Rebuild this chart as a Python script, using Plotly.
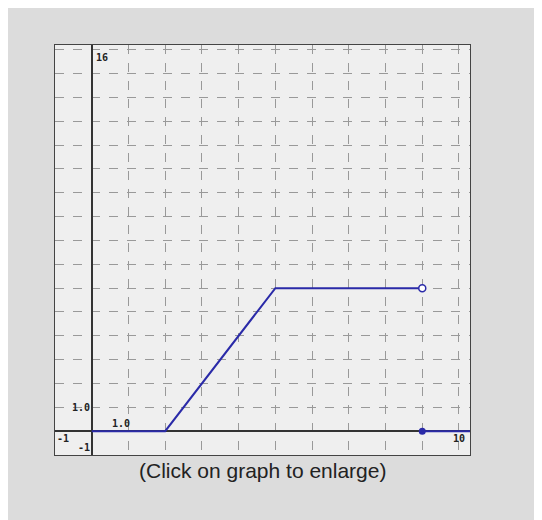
import plotly.graph_objects as go

seg_x = [0, 2, 5, 9]
seg_y = [0, 0, 6, 6]
tail_x = [9, 10.3]
tail_y = [0, 0]
open_pt = (9, 6)
closed_pt = (9, 0)

fig = go.Figure()
fig.add_trace(go.Scatter(x=seg_x, y=seg_y, mode="lines", line=dict(color="#2a2aa8", width=2)))
fig.add_trace(go.Scatter(x=tail_x, y=tail_y, mode="lines", line=dict(color="#2a2aa8", width=2)))
fig.add_trace(go.Scatter(x=[open_pt[0]], y=[open_pt[1]], mode="markers",
                         marker=dict(size=7, color="white", line=dict(color="#2a2aa8", width=1.5))))
fig.add_trace(go.Scatter(x=[closed_pt[0]], y=[closed_pt[1]], mode="markers",
                         marker=dict(size=7, color="#2a2aa8")))

gridstyle = dict(showgrid=True, gridcolor="#999", griddash="dash", gridwidth=1,
                 zeroline=True, zerolinecolor="#333", zerolinewidth=1.5,
                 showticklabels=False, showline=True, mirror=True, linecolor="#444", linewidth=1)
fig.update_xaxes(range=[-1, 10.3], dtick=1, **gridstyle)
fig.update_yaxes(range=[-1, 16.2], dtick=1, **gridstyle)

lab = dict(font=dict(family="DejaVu Sans Mono", size=10, color="#222"), showarrow=False)
fig.add_annotation(x=0.05, y=16, text="<b>16</b>", xanchor="left", yanchor="top", **lab)
fig.add_annotation(x=0.8, y=0, text="<b>1.0</b>", xanchor="center", yanchor="bottom", **lab)
fig.add_annotation(x=0, y=1, text="<b>1.0</b>", xanchor="right", yanchor="middle", **lab)
fig.add_annotation(x=-1, y=0, text="<b>-1</b>", xanchor="left", yanchor="top", **lab)
fig.add_annotation(x=0, y=-1, text="<b>-1</b>", xanchor="right", yanchor="bottom", **lab)
fig.add_annotation(x=10, y=0, text="<b>10</b>", xanchor="center", yanchor="top", **lab)
fig.add_annotation(x=0.5, y=-0.005, xref="paper", yref="paper", text="(Click on graph to enlarge)",
                   showarrow=False, yanchor="top", font=dict(family="Liberation Sans", size=21, color="#222"))

fig.update_layout(width=542, height=520, showlegend=False,
                  margin=dict(l=47, r=80, t=37, b=73),
                  paper_bgcolor="#dcdcdc", plot_bgcolor="#efefef")
fig.write_html("out.html")
